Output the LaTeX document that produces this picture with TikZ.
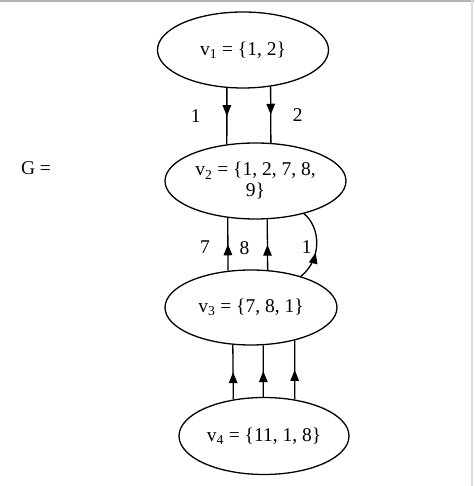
\documentclass[tikz,border=0pt]{standalone}
\usepackage{fontspec}
\setmainfont{Liberation Serif}
\usetikzlibrary{arrows.meta,decorations.markings,shapes.geometric}
\definecolor{Frame}{HTML}{B4B4B4}
\definecolor{FrameLight}{HTML}{DCDCDC}

\begin{document}
\begin{tikzpicture}[
  x=1pt,y=1pt,
  vert/.style={draw,ellipse,line width=1.3pt,inner sep=0pt,align=center,font=\fontsize{19.5}{21}\selectfont},
  lbl/.style={font=\fontsize{19.5}{21}\selectfont,inner sep=0pt},
  midarrow/.style={line width=1.3pt,postaction={decorate},
    decoration={markings,mark=at position #1 with {\arrow{Triangle[length=11pt,width=8.5pt]}}}}
]
  \useasboundingbox (0,0) rectangle (474,486);
  \draw[Frame,line width=2pt] (0,485) -- (474,485);
  \draw[FrameLight,line width=1.5pt] (472,0) -- (472,486);

  \node[lbl] (g) at (36,318) {G =};
  \node[vert,minimum width=171pt,minimum height=76pt] (v1) at (243,436) {v\textsubscript{1} = \{1, 2\}};
  \node[vert,minimum width=181pt,minimum height=76pt] (v2) at (255.5,305) {v\textsubscript{2} = \{1, 2, 7, 8,\\9\}};
  \node[vert,minimum width=172pt,minimum height=75pt] (v3) at (251,178.5) {v\textsubscript{3} = \{7, 8, 1\}};
  \node[vert,minimum width=170pt,minimum height=77pt] (v4) at (264,50) {v\textsubscript{4} = \{11, 1, 8\}};

  % v1 -> v2
  \draw[midarrow=0.5] (v1.-113.2) -- node[lbl,xshift=-31pt]{1} (v2.128.3);
  \draw[midarrow=0.5] (v1.-53.2) -- node[lbl,xshift=27pt]{2} (v2.68.9);
  % v3 -> v2
  \draw[midarrow=0.5] (v3.122.5) -- node[lbl,xshift=-23pt,yshift=-3pt]{7} (v2.-127.2);
  \draw[midarrow=0.5] (v3.66.5) -- node[lbl,xshift=-23pt,yshift=-3pt]{8} (v2.-73);
  \draw[midarrow=0.4] (v3.32.9) .. controls +(21,17) and +(17,-14) .. node[lbl,pos=0.5,xshift=-10pt,yshift=-3pt]{1} (v2.-34.2);
  % v4 -> v3
  \draw[midarrow=0.5] (v4.130.85) -- (v3.-116.15);
  \draw[midarrow=0.5] (v4.91.5) -- (v3.-72.1);
  \draw[midarrow=0.5] (v4.50.2) -- (v3.-37.07);
\end{tikzpicture}
\end{document}
